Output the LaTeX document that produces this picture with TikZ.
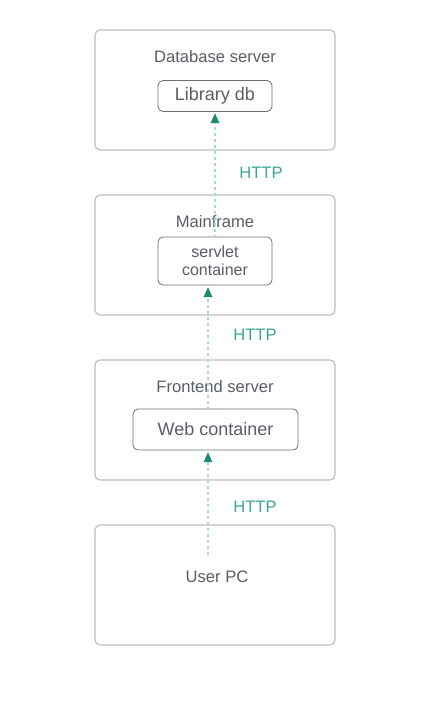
\documentclass[tikz,border=0pt]{standalone}
\usepackage{fontspec}
\setmainfont{Liberation Sans}
\usetikzlibrary{arrows.meta}
\definecolor{outerline}{HTML}{BFBFC5}
\definecolor{innerline}{HTML}{6E6E72}
\definecolor{txt}{HTML}{595D64}
\definecolor{httpc}{HTML}{3AA893}
\definecolor{dotc}{HTML}{A8DCD3}
\definecolor{tipc}{HTML}{1B8A72}
\begin{document}
\begin{tikzpicture}[x=1pt,y=-1pt,
  outerbox/.style={draw=outerline,line width=1.2pt,rounded corners=5pt,minimum width=240pt,minimum height=120pt,inner sep=0pt},
  innerbox/.style={draw=innerline,line width=0.8pt,rounded corners=5pt,inner sep=0pt,text=txt,align=center},
  lbl/.style={text=txt,font=\fontsize{16.6}{19}\selectfont,inner sep=0pt},
  http/.style={text=httpc,font=\fontsize{16.6}{19}\selectfont,inner sep=0pt},
  conn/.style={draw=dotc,line width=2.4pt,dash pattern=on 3pt off 3pt,-{Triangle[length=10pt,width=8pt,color=tipc]}}]
\useasboundingbox (0,0) rectangle (439,710);
% outer boxes
\node[outerbox] (db) at (215,90) {};
\node[outerbox] (mf) at (215,255) {};
\node[outerbox] (fe) at (215,420) {};
\node[outerbox] (pc) at (215,585) {};
% titles
\node[lbl] (dbt) at (215,57) {Database server};
\node[lbl] (mft) at (215,222) {Mainframe};
\node[lbl] (fet) at (215,387) {Frontend server};
\node[lbl] (pct) at (217,577) {User PC};
% inner nodes
\node[innerbox,minimum width=114pt,minimum height=31pt,font=\fontsize{18}{20}\selectfont] (lib) at (215,96) {Library db};
\node[innerbox,minimum width=114pt,minimum height=48pt,font=\fontsize{16}{18}\selectfont] (sv) at (215,261) {servlet\\container};
\node[innerbox,minimum width=165pt,minimum height=41pt,font=\fontsize{18}{20}\selectfont] (web) at (215.5,429.5) {Web container};
% connector end points
\coordinate (s1) at (208,555);
\coordinate (e1) at (208,452);
\coordinate (s2) at (208,410);
\coordinate (e2) at (208,287);
\coordinate (s3) at (215,238);
\coordinate (e3) at (215,113);
\draw[conn] (s1) -- (e1);
\draw[conn] (s2) -- (e2);
\draw[conn] (s3) -- (e3);
% labels
\node[http] (h1) at (261,173) {HTTP};
\node[http] (h2) at (255,335) {HTTP};
\node[http] (h3) at (255,507) {HTTP};
\end{tikzpicture}
\end{document}
